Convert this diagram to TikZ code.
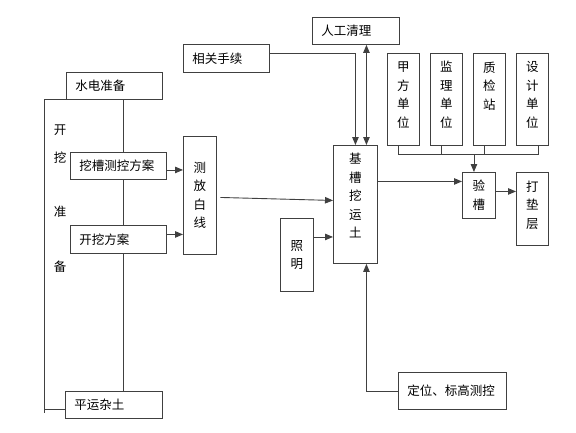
\documentclass[tikz,border=0pt]{standalone}
\usepackage{fontspec}
\setmainfont{Noto Sans CJK SC}
\usetikzlibrary{arrows.meta}
\newcommand\tdepth[1]{\rule[-#1]{0pt}{#1}}

\begin{document}
\begin{tikzpicture}[x=1pt,y=-1pt,>={Triangle[length=8pt,width=6.5pt]},
  every node/.style={font=\fontsize{12.5}{18.5}\selectfont},
  line/.style={draw=black!75,line width=0.9pt},
  hbox/.style 2 args={line,anchor=north west,inner xsep=9pt,inner ysep=0pt,
    text width=#1,minimum height=#2,align=left},
  vbox/.style 2 args={line,anchor=north west,inner sep=0pt,
    minimum width=#1,minimum height=#2,align=center}]
\useasboundingbox (0,0) rectangle (576,432);

% define the boxes
  \node[hbox={78pt}{27pt}] (sd) at (66,72)   {水电准备};
  \node[hbox={78pt}{27pt}] (wc) at (70,152)  {挖槽测控方案};
  \node[hbox={78pt}{28pt}] (kw) at (70,225)  {开挖方案};
  \node[hbox={79pt}{27pt}] (py) at (65,391)  {平运杂土};
  \node[hbox={68pt}{28pt}] (xg) at (183,44)  {相关手续};
  \node[hbox={69pt}{27pt}] (rg) at (312,17)  {人工清理};
  \node[hbox={90pt}{37pt}] (dw) at (398,372) {定位、标高测控};

  \node[vbox={33pt}{118pt}] (cf) at (183,136) {测\\放\\白\\线};
  \node[vbox={44pt}{118pt}] (jc) at (333,145) {基\\槽\\挖\\运\\土\tdepth{18pt}};
  \node[vbox={33pt}{73pt}]  (zm) at (280,218) {照\\明};
  \node[vbox={32pt}{92pt}]  (jf) at (387,53)  {甲\\方\\单\\位\tdepth{10pt}};
  \node[vbox={32pt}{92pt}]  (jl) at (430,53)  {监\\理\\单\\位\tdepth{10pt}};
  \node[vbox={32pt}{92pt}]  (zj) at (473,53)  {质\\检\\站\tdepth{28pt}};
  \node[vbox={32pt}{92pt}]  (sj) at (516,53)  {设\\计\\单\\位\tdepth{10pt}};
  \node[vbox={33pt}{46pt}]  (yc) at (462,172) {验\\槽};
  \node[vbox={32pt}{73pt}]  (dd) at (516,172) {打\\垫\\层\tdepth{9pt}};

% the side text
  \foreach \c/\y [count=\i] in {开/130, 挖/158, 准/212, 备/267}
    \node (kz\i) at (60,\y) {\c};

% helper points
  \coordinate (trunk) at (123,0);
  \coordinate (lbot) at (44,413);
  \coordinate (pyl) at (44,409);
  \coordinate (bus) at (0,154);

% define the links
  \draw[line] (sd.south west) -| (lbot);
  \draw[line] (pyl) -- (pyl -| py.west);
  \draw[line] (trunk |- sd.south) -- (trunk |- wc.north)
              (trunk |- wc.south) -- (trunk |- kw.north)
              (trunk |- kw.south) -- (trunk |- py.north);
  \draw[line,->] ([yshift=-4pt]wc.east) -- ([yshift=-4pt]wc.east -| cf.west);
  \draw[line,->] ([yshift=5pt]kw.east) -- ([yshift=5pt]kw.east -| cf.west);
  \draw[line,->] ([xshift=3.5pt,yshift=-2pt]cf.east) -- ([yshift=4pt]jc.west);
  \draw[line,->] ([yshift=5pt]xg.east) -| (jc.north);
  \draw[line,<->] ([xshift=11pt]jc.north |- rg.south) -- ([xshift=11pt]jc.north);
  \draw[line,->] ([yshift=18pt]zm.east) -- ([yshift=18pt]zm.east -| jc.west);
  \draw[line,->] (dw.west) -| ([xshift=11pt]jc.south);
  \draw[line,->] ([yshift=23pt]jc.east) -- ([yshift=23pt]jc.east -| yc.west);
  \draw[line,->] ([yshift=4pt]yc.east) -- ([yshift=4pt]yc.east -| dd.west);
  \draw[line] ([xshift=-5pt]jf.south) |- ([xshift=6pt]sj.south |- bus) -- ([xshift=6pt]sj.south);
  \draw[line] ([xshift=-5pt]jl.south) -- ([xshift=-5pt]jl.south |- bus)
              ([xshift=-5pt]zj.south) -- ([xshift=-5pt]zj.south |- bus);
  \draw[line,->] ([xshift=-5pt]yc.north |- bus) -- ([xshift=-5pt]yc.north);

\end{tikzpicture}
\end{document}
